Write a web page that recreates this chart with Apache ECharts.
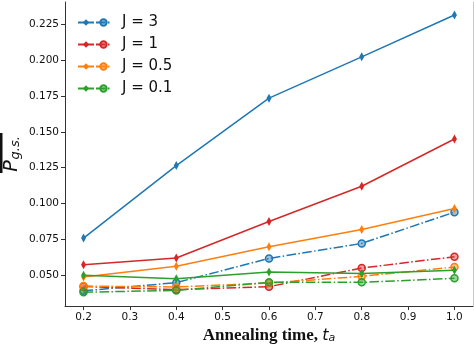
<!DOCTYPE html>
<html>
<head>
<meta charset="utf-8">
<script src="https://cdn.jsdelivr.net/npm/echarts@6/dist/echarts.min.js"></script>
<style>
  html, body { margin: 0; padding: 0; background: #ffffff; }
  #chart { width: 474px; height: 346px; }
</style>
</head>
<body>
<div id="chart"></div>
<script>
// Annealing times on the x axis
const annealingTimes = [0.2, 0.4, 0.6, 0.8, 1.0];

// Coupling strengths shown in the legend
const couplingLabels = ['J = 3', 'J = 1', 'J = 0.5', 'J = 0.1'];
const couplingColors = ['#1f77b4', '#d62728', '#ff7f0e', '#2ca02c'];

// Solid curves (diamond markers)
const solidJ3 = [0.0758, 0.1264, 0.1735, 0.2023, 0.2315];
const solidJ1 = [0.0572, 0.0619, 0.0874, 0.1120, 0.1450];
const solidJ05 = [0.0486, 0.0561, 0.0698, 0.0818, 0.0964];
const solidJ01 = [0.0498, 0.0475, 0.0521, 0.0510, 0.0533];

// Dash-dot curves (circle markers)
const dashJ3 = [0.0390, 0.0447, 0.0616, 0.0721, 0.0939];
const dashJ1 = [0.0420, 0.0398, 0.0419, 0.0549, 0.0628];
const dashJ05 = [0.0423, 0.0417, 0.0444, 0.0491, 0.0556];
const dashJ01 = [0.0380, 0.0393, 0.0449, 0.0449, 0.0477];

// Tick positions
const xTicks = [0.2, 0.3, 0.4, 0.5, 0.6, 0.7, 0.8, 0.9, 1.0];
const yTicks = [0.050, 0.075, 0.100, 0.125, 0.150, 0.175, 0.200, 0.225];

const solidSets = [solidJ3, solidJ1, solidJ05, solidJ01];
const dashSets = [dashJ3, dashJ1, dashJ05, dashJ01];
const DASH_SUFFIX = ' (dash-dot)';

function pairs(values) {
  return annealingTimes.map((t, i) => [t, values[i]]);
}

const series = [];
couplingLabels.forEach((label, k) => {
  series.push({
    name: label,
    type: 'line',
    data: pairs(solidSets[k]),
    symbol: 'diamond',
    symbolSize: [5, 9],
    showAllSymbol: true,
    lineStyle: { width: 1.5, type: 'solid', color: couplingColors[k] },
    itemStyle: { color: couplingColors[k] },
    z: 3
  });
});
couplingLabels.forEach((label, k) => {
  series.push({
    name: label + DASH_SUFFIX,
    type: 'line',
    data: pairs(dashSets[k]),
    symbol: 'circle',
    symbolSize: 7,
    showAllSymbol: true,
    lineStyle: { width: 1.5, type: [9.6, 2.4, 1.5, 2.4], color: couplingColors[k] },
    itemStyle: {
      color: echarts.color.modifyAlpha(couplingColors[k], 0.45),
      borderColor: couplingColors[k],
      borderWidth: 1.5
    },
    z: 2
  });
});

const chart = echarts.init(document.getElementById('chart'), null, { renderer: 'canvas' });

const tickFont = { fontFamily: 'DejaVu Sans', fontSize: 10.5, color: '#111' };

chart.setOption({
  animation: false,
  backgroundColor: '#ffffff',
  grid: { left: 65, right: 1, top: 2, bottom: 40, containLabel: false, outerBoundsMode: 'none' },
  legend: [
    {
      data: couplingLabels,
      orient: 'vertical',
      left: 77,
      top: 11.5,
      padding: 0,
      itemWidth: 16,
      itemHeight: 8,
      itemGap: 0,
      formatter: () => ' ',
      textStyle: { fontSize: 15, lineHeight: 22 },
      selectedMode: false
    },
    {
      data: couplingLabels.map(l => l + DASH_SUFFIX),
      orient: 'vertical',
      left: 95,
      top: 11.5,
      padding: 0,
      itemWidth: 15,
      itemHeight: 8,
      itemGap: 0,
      formatter: name => name.replace(DASH_SUFFIX, ''),
      textStyle: { fontFamily: 'DejaVu Sans', fontSize: 15, lineHeight: 22, color: '#111', padding: [0, 0, 0, 6] },
      selectedMode: false
    }
  ],
  xAxis: {
    type: 'value',
    min: 0.16,
    max: 1.04,
    splitLine: { show: false },
    axisLine: { show: true, onZero: false, lineStyle: { color: '#333', width: 1 } },
    axisTick: { show: true, customValues: xTicks, length: 4, lineStyle: { color: '#333' } },
    axisLabel: { customValues: xTicks, formatter: v => v.toFixed(1), margin: 6, ...tickFont },
    name: '{b|Annealing time, }{t|t}{s|a}',
    nameLocation: 'middle',
    nameGap: 21,
    nameMoveOverlap: false,
    nameTextStyle: {
      rich: {
        b: { fontFamily: 'Liberation Serif', fontWeight: 'bold', fontSize: 17, color: '#111' },
        t: { fontFamily: 'DejaVu Sans', fontStyle: 'italic', fontSize: 16, color: '#111' },
        s: { fontFamily: 'DejaVu Sans', fontStyle: 'italic', fontSize: 11, color: '#111', padding: [6, 0, 0, 0] }
      }
    }
  },
  yAxis: [
    {
      type: 'value',
      min: 0.0284,
      max: 0.2406,
      splitLine: { show: false },
      axisLine: { show: true, onZero: false, lineStyle: { color: '#333', width: 1 } },
      axisTick: { show: true, customValues: yTicks, length: 4, lineStyle: { color: '#333' } },
      axisLabel: { customValues: yTicks, formatter: v => v.toFixed(3), margin: 6, ...tickFont },
      name: '{p|P}{s|g.s.}',
      nameLocation: 'middle',
      nameGap: 43,
      nameRotate: 90,
      nameMoveOverlap: false,
      nameTextStyle: {
        rich: {
          p: { fontFamily: 'DejaVu Sans', fontStyle: 'italic', fontSize: 19, color: '#111' },
          s: { fontFamily: 'DejaVu Sans', fontStyle: 'italic', fontSize: 13, color: '#111', padding: [6, 0, 0, 1] }
        }
      }
    },
    {
      type: 'value',
      position: 'right',
      min: 0.0284,
      max: 0.2406,
      splitLine: { show: false },
      axisLine: { show: true, onZero: false, lineStyle: { color: '#c8c8c8', width: 1 } },
      axisTick: { show: false },
      axisLabel: { show: false }
    }
  ],
  // overline above P_g.s.
  graphic: [
    {
      type: 'rect',
      shape: { x: 0, y: 133, width: 2.5, height: 40 },
      style: { fill: '#111' },
      silent: true
    }
  ],
  series: series
});
</script>
</body>
</html>
